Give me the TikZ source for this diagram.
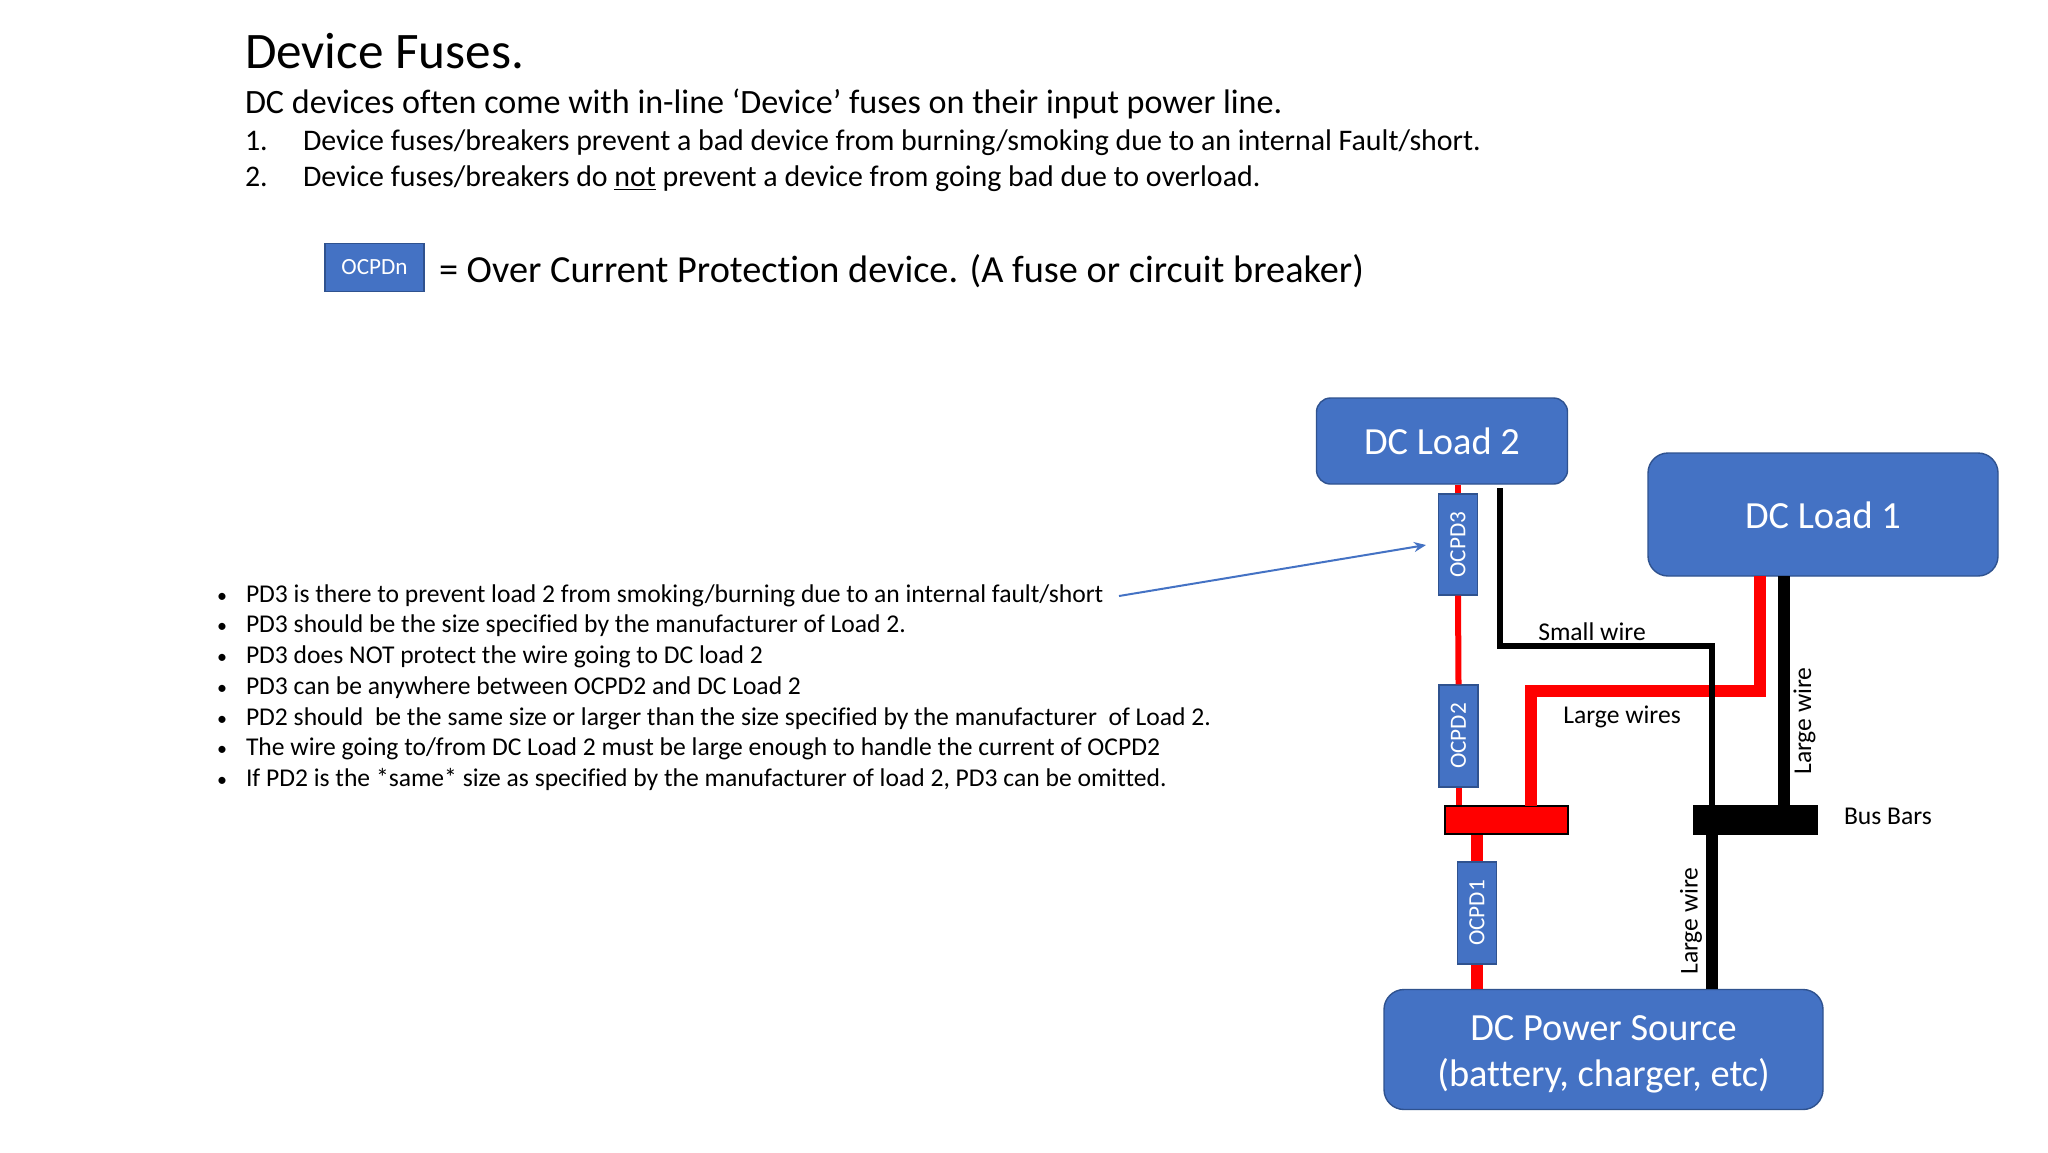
\documentclass[tikz,border=0pt]{standalone}
\usepackage{fontspec}
\usetikzlibrary{arrows.meta}
\setmainfont{Carlito}[Ligatures=NoCommon]
\definecolor{offblue}{HTML}{4472C4}
\definecolor{offedge}{HTML}{2F528F}
\begin{document}
\begin{tikzpicture}[x=0.5pt,y=-0.5pt,
 txt/.style={anchor=base west,inner sep=0,outer sep=0,text=black},
 title/.style={txt,font=\fontsize{25.6}{30}\selectfont},
 sub/.style={txt,font=\fontsize{17.05}{21}\selectfont},
 item/.style={txt,font=\fontsize{14.95}{18}\selectfont},
 bul/.style={txt,font=\fontsize{12.8}{16}\selectfont},
 dotmark/.style={txt,font=\fontsize{10}{12}\selectfont},
 lab/.style={anchor=center,inner sep=0,outer sep=0,font=\fontsize{12.8}{16}\selectfont},
 box/.style={draw=offedge,line width=0.7pt,fill=offblue,text=white,rounded corners=7pt,align=center,font=\fontsize{19.2}{23}\selectfont,inner sep=0},
 bigbox/.style={box,rounded corners=10pt},
 fuse/.style={draw=offedge,line width=0.7pt,fill=offblue,text=white,inner sep=0,font=\fontsize{11.6}{13}\selectfont},
 redthin/.style={draw=red,line width=3pt},
 redthick/.style={draw=red,line width=6pt},
 blackthin/.style={draw=black,line width=2.7pt},
 blackthick/.style={draw=black,line width=6pt},
]
\useasboundingbox (0,0) rectangle (2048,1152);
\fill[white] (0,0) rectangle (2048,1152);
\node[box,minimum width=125.5pt,minimum height=43pt] (load2) at (1442,441) {DC Load 2};
\node[bigbox,minimum width=175pt,minimum height=61.5pt] (load1) at (1823,514.5) {\rule{0pt}{14.2pt}DC Load 1};
\node[bigbox,minimum width=219.5pt,minimum height=60pt] (src) at (1603.5,1049.5) {\rule{0pt}{17.5pt}DC Power Source\\(battery, charger, etc)};
\node[draw=black,line width=1pt,fill=red,minimum width=61.5pt,minimum height=14pt,inner sep=0] (redbar) at (1506.5,820) {};
\node[draw=black,line width=1pt,fill=black,minimum width=61.5pt,minimum height=14pt,inner sep=0] (blackbar) at (1755.5,820) {};
\node[fuse,minimum width=50.5pt,minimum height=19.5pt,rotate=90] (f3) at (1458,544.5) {OCPD3};
\node[fuse,minimum width=51pt,minimum height=19.5pt,rotate=90] (f2) at (1458.5,736) {OCPD2};
\node[fuse,minimum width=51pt,minimum height=19.5pt,rotate=90] (f1) at (1477,913) {OCPD1};
\node[fuse,minimum width=49.5pt,minimum height=24pt] (legend) at (374.5,267.5) {OCPDn};
% connectors
\draw[redthin] (f3.east |- load2.south) -- (f3.east);
\draw[redthin] (f3.west) -- (f2.east);
\draw[redthin] (f2.west) -- (f2.west |- redbar.north);
\draw[redthick] (f1.east |- redbar.south) -- (f1.east);
\draw[redthick] (f1.west) -- (f1.west |- src.north);
\coordinate (smalltop) at (1500,488);
\coordinate (smallbend) at (1712,646);
\coordinate (largeredbend) at (1760,691);
\coordinate (redfoot) at (1530.5,806);
\coordinate (smallfoot) at (1712,806);
\coordinate (blackfoot) at (1784,806);
\coordinate (lowerwire) at (1712,834);
\coordinate (lowerfoot) at (1712,989);
\coordinate (redtop) at (1760,576);
\coordinate (blacktop) at (1784,576);
\draw[redthick,line join=miter] (redfoot) |- (largeredbend) -- (redtop);
\draw[blackthin,line join=miter] (smalltop) |- (smallbend) -- (smallfoot);
\draw[blackthick] (blacktop) -- (blackfoot);
\draw[blackthick] (lowerwire) -- (lowerfoot);
% labels
\node[lab] (smalllab) at (1592,632) {Small wire};
\node[lab] (largeslab) at (1622,717) {Large wires};
\node[lab,rotate=90] (lw1) at (1804.5,721) {Large wire};
\node[lab,rotate=90] (lw2) at (1691,921) {Large wire};
\node[lab,anchor=base west] (busbars) at (1844,824) {Bus Bars};
% text
\node[title] (t0) at (245,68) {Device Fuses.};
\node[sub] (t1) at (245,113) {DC devices often come with in-line ‘Device’ fuses on their input power line.};
\node[item] (n1) at (245,150) {1.};
\node[item] (i1) at (303,150) {Device fuses/breakers prevent a bad device from burning/smoking due to an internal Fault/short.};
\node[item] (n2) at (245,186) {2.};
\node[item] (i2) at (303,186) {Device fuses/breakers do \underline{not} prevent a device from going bad due to overload.};
\node[sub,font=\fontsize{19.15}{23}\selectfont] (t2) at (439,282.5) {= Over Current Protection device. (A fuse or circuit breaker)};
\foreach \nm/\yy/\tx in {
 b1/602/{PD3 is there to prevent load 2 from smoking/burning due to an internal fault/short},
 b2/632.5/{PD3 should be the size specified by the manufacturer of Load 2.},
 b3/663/{PD3 does NOT protect the wire going to DC load 2},
 b4/694/{PD3 can be anywhere between OCPD2 and DC Load 2},
 b5/725/{PD2 should\ \ be the same size or larger than the size specified by the manufacturer\ \ of Load 2.},
 b6/755.5/{The wire going to/from DC Load 2 must be large enough to handle the current of OCPD2},
 b7/786/{If PD2 is the *same* size as specified by the manufacturer of load 2, PD3 can be omitted.}}{
 \node[bul] (\nm) at (246,\yy) {\tx};
 \node[dotmark] (\nm d) at (217,\yy) {•};
}
\coordinate (arrowstart) at (1119,596);
\coordinate (arrowend) at (1426,545);
\draw[draw=offblue,line width=1pt,-{Stealth[length=6pt,width=5pt]}] (arrowstart) -- (arrowend);
\end{tikzpicture}
\end{document}
